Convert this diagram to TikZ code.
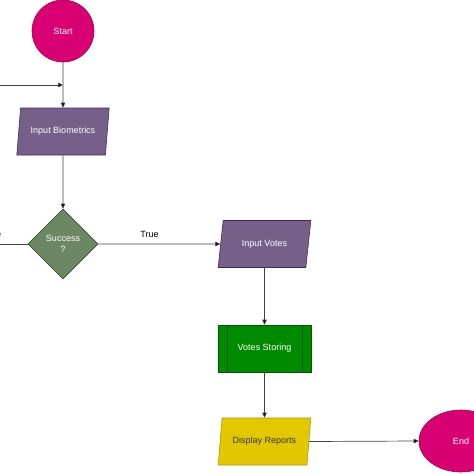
\documentclass[tikz,border=0pt]{standalone}
\usepackage{fontspec}
\setmainfont{Liberation Sans}
\usetikzlibrary{shapes.geometric,arrows.meta}
\definecolor{termfill}{HTML}{D80073}
\definecolor{termline}{HTML}{A50040}
\definecolor{iofill}{HTML}{76608A}
\definecolor{ioline}{HTML}{432D57}
\definecolor{decfill}{HTML}{6D8764}
\definecolor{decline}{HTML}{3A5431}
\definecolor{procfill}{HTML}{008A00}
\definecolor{procline}{HTML}{005700}
\definecolor{repfill}{HTML}{E3C800}
\definecolor{repline}{HTML}{B09500}
\tikzset{
  every node/.style={font=\fontsize{9}{11}\selectfont},
  terminal/.style={ellipse, draw=termline, fill=termfill, text=white, line width=0.6pt},
  iobox/.style={trapezium, trapezium left angle=78, trapezium right angle=102,
    trapezium stretches=true, minimum width=93pt, minimum height=47pt,
    draw=ioline, fill=iofill, text=white, line width=0.6pt},
  decision/.style={diamond, minimum width=70pt, minimum height=70pt, inner sep=0pt,
    draw=decline, fill=decfill, text=white, align=center, line width=0.6pt},
  subproc/.style={rectangle, minimum width=93pt, minimum height=47pt,
    draw=procline, fill=procfill, text=white, line width=0.6pt,
    path picture={
      \draw[procline] ([xshift=9pt]path picture bounding box.north west) -- ([xshift=9pt]path picture bounding box.south west);
      \draw[procline] ([xshift=-9pt]path picture bounding box.north east) -- ([xshift=-9pt]path picture bounding box.south east);
    }},
  flow/.style={draw=black!75, line width=0.7pt, -{Triangle[length=5pt,width=4.5pt,fill=black]}},
  plain/.style={draw=black!75, line width=0.7pt}
}
\begin{document}
\begin{tikzpicture}[x=1pt,y=-1pt]
  \useasboundingbox (0,0) rectangle (474,474);
  \node[terminal, minimum width=62pt, minimum height=62pt] (start) at (63,31) {Start};
  \node[iobox] (bio) at (63,131.5) {Input Biometrics};
  \node[decision] (dia) at (63,244) {Success\\?};
  \node[iobox] (votes) at (264.5,244) {Input Votes};
  \node[subproc] (store) at (264.5,348.5) {Votes Storing};
  \node[iobox, fill=repfill, draw=repline, text=black!80] (disp) at (264.5,441.5) {Display Reports};
  \node[terminal, minimum width=84pt, minimum height=62pt] (end) at (461,441) {End};
  \coordinate (loopin) at (0,85);
  \coordinate (join) at (63,85);
  \coordinate (falseout) at (0,244);
  \draw[flow] (start) -- (bio);
  \draw[flow] (loopin) -- (join);
  \draw[flow] (bio) -- (dia);
  \draw[plain] (dia.west) -- node[above=3pt, anchor=south east, xshift=-9pt] {False} (falseout);
  \draw[flow] (dia.east) -- node[pos=0.42, above=3pt] {True} (votes.west);
  \draw[flow] (votes) -- (store);
  \draw[flow] (store) -- (disp);
  \draw[flow] (disp.east) -- (end.west);
\end{tikzpicture}
\end{document}
